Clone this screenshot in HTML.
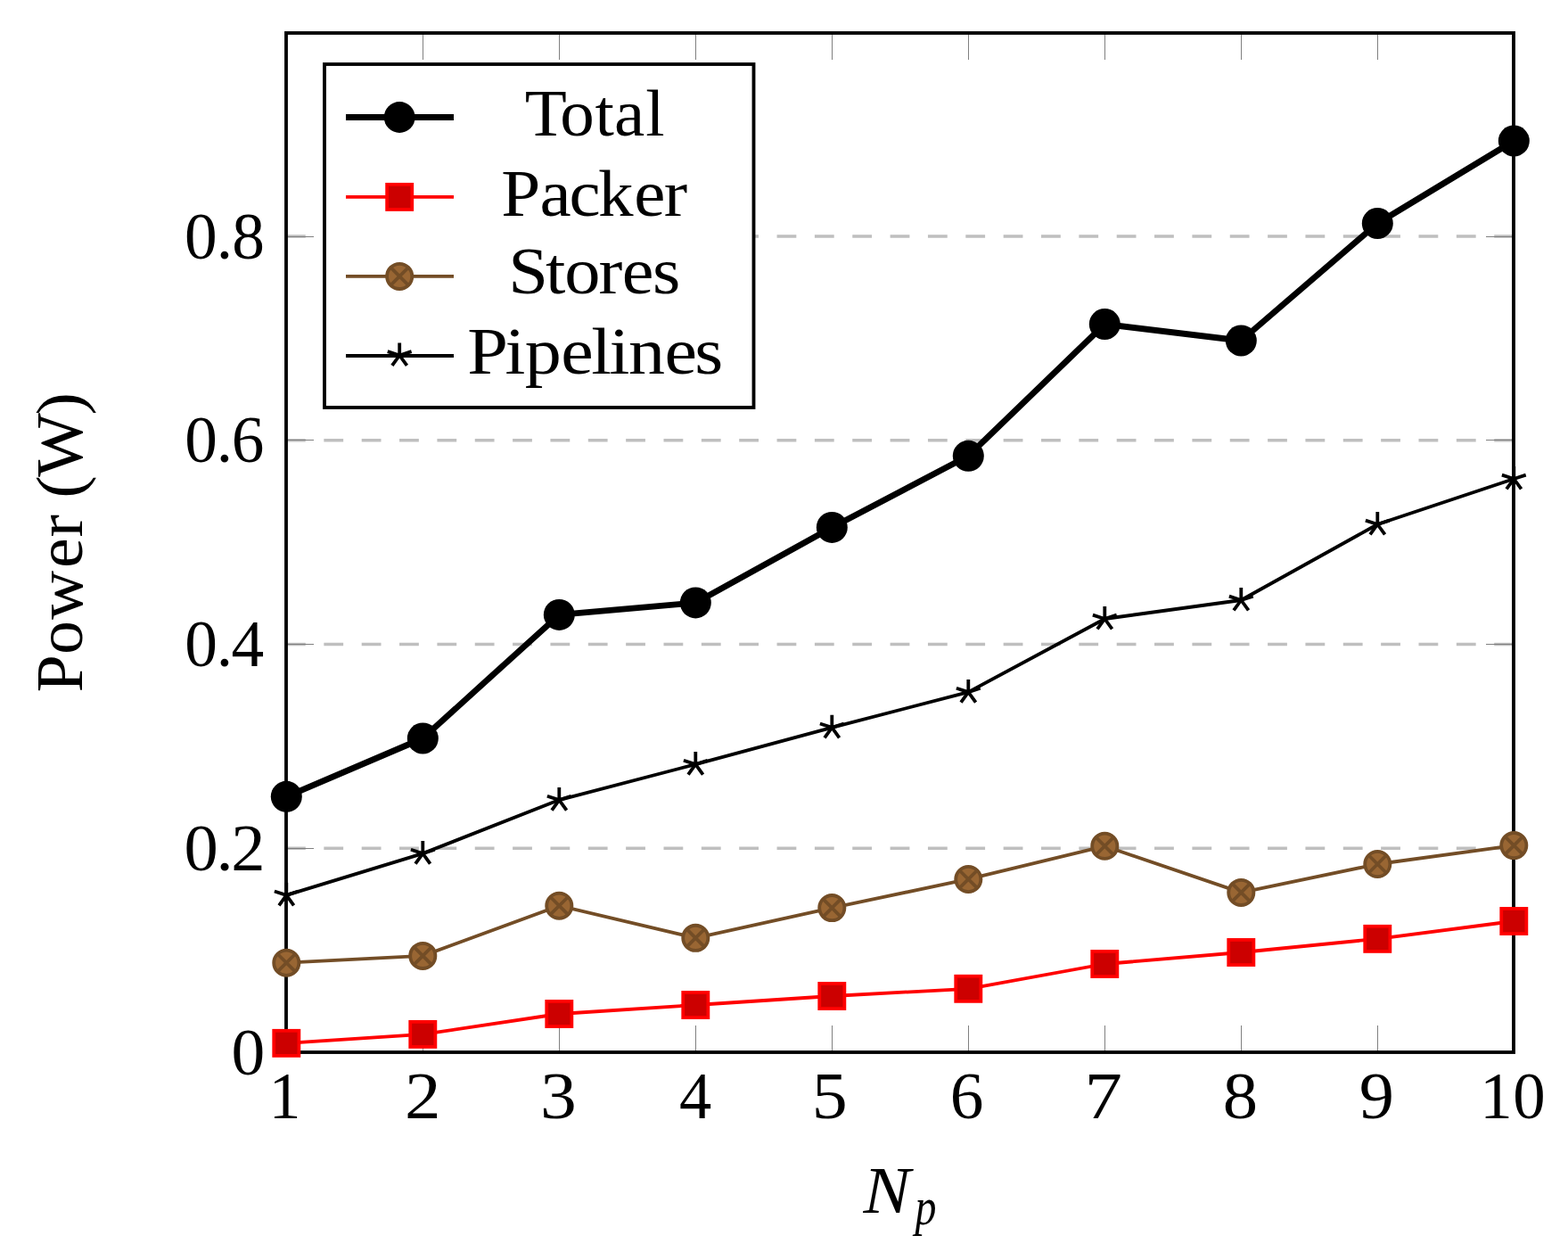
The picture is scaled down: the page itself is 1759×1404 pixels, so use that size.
<!DOCTYPE html><html><head><meta charset="utf-8"><title>Power vs Np</title><style>html,body{margin:0;padding:0;background:#fff;}svg{display:block;}text{font-family:"Liberation Serif",serif;fill:#000;}</style></head><body>
<svg width="1759" height="1404" viewBox="0 0 1759 1404">
<rect width="1759" height="1404" fill="#fff"/>
<line x1="321" y1="951.25" x2="1698" y2="951.25" stroke="#bfbfbf" stroke-width="3.7" stroke-dasharray="21.8 20.55"/>
<line x1="321" y1="722.50" x2="1698" y2="722.50" stroke="#bfbfbf" stroke-width="3.7" stroke-dasharray="21.8 20.55"/>
<line x1="321" y1="493.75" x2="1698" y2="493.75" stroke="#bfbfbf" stroke-width="3.7" stroke-dasharray="21.8 20.55"/>
<line x1="321" y1="265.00" x2="1698" y2="265.00" stroke="#bfbfbf" stroke-width="3.7" stroke-dasharray="21.8 20.55"/>
<path d="M474.5,1180V1150M474.5,37V67M627.5,1180V1150M627.5,37V67M780.5,1180V1150M780.5,37V67M933.5,1180V1150M933.5,37V67M1086.5,1180V1150M1086.5,37V67M1239.5,1180V1150M1239.5,37V67M1392.5,1180V1150M1392.5,37V67M1545.5,1180V1150M1545.5,37V67M321,951.5H352M1698,951.5H1667M321,722.5H352M1698,722.5H1667M321,493.5H352M1698,493.5H1667M321,265.5H352M1698,265.5H1667" stroke="#808080" stroke-width="1" fill="none"/>
<rect x="321" y="37" width="1377" height="1143" fill="none" stroke="#000" stroke-width="3.85"/>
<polyline points="321.30,893.30 474.30,828.00 627.30,689.40 780.30,675.90 933.30,591.40 1086.30,511.30 1239.30,363.50 1392.30,382.00 1545.30,250.50 1698.30,158.00" fill="none" stroke="#000" stroke-width="6.8" stroke-linejoin="round"/>
<circle cx="321.30" cy="893.30" r="17.5" fill="#000"/><circle cx="474.30" cy="828.00" r="17.5" fill="#000"/><circle cx="627.30" cy="689.40" r="17.5" fill="#000"/><circle cx="780.30" cy="675.90" r="17.5" fill="#000"/><circle cx="933.30" cy="591.40" r="17.5" fill="#000"/><circle cx="1086.30" cy="511.30" r="17.5" fill="#000"/><circle cx="1239.30" cy="363.50" r="17.5" fill="#000"/><circle cx="1392.30" cy="382.00" r="17.5" fill="#000"/><circle cx="1545.30" cy="250.50" r="17.5" fill="#000"/><circle cx="1698.30" cy="158.00" r="17.5" fill="#000"/>
<polyline points="321.30,1169.85 474.30,1159.90 627.30,1137.00 780.30,1127.00 933.30,1117.00 1086.30,1108.80 1239.30,1081.00 1392.30,1068.00 1545.30,1052.85 1698.30,1033.00" fill="none" stroke="#ff0000" stroke-width="3.8" stroke-linejoin="round"/>
<rect x="307.25" y="1155.80" width="28.10" height="28.10" fill="#cc0000" stroke="#ff0000" stroke-width="3.8"/><rect x="460.25" y="1145.85" width="28.10" height="28.10" fill="#cc0000" stroke="#ff0000" stroke-width="3.8"/><rect x="613.25" y="1122.95" width="28.10" height="28.10" fill="#cc0000" stroke="#ff0000" stroke-width="3.8"/><rect x="766.25" y="1112.95" width="28.10" height="28.10" fill="#cc0000" stroke="#ff0000" stroke-width="3.8"/><rect x="919.25" y="1102.95" width="28.10" height="28.10" fill="#cc0000" stroke="#ff0000" stroke-width="3.8"/><rect x="1072.25" y="1094.75" width="28.10" height="28.10" fill="#cc0000" stroke="#ff0000" stroke-width="3.8"/><rect x="1225.25" y="1066.95" width="28.10" height="28.10" fill="#cc0000" stroke="#ff0000" stroke-width="3.8"/><rect x="1378.25" y="1053.95" width="28.10" height="28.10" fill="#cc0000" stroke="#ff0000" stroke-width="3.8"/><rect x="1531.25" y="1038.80" width="28.10" height="28.10" fill="#cc0000" stroke="#ff0000" stroke-width="3.8"/><rect x="1684.25" y="1018.95" width="28.10" height="28.10" fill="#cc0000" stroke="#ff0000" stroke-width="3.8"/>
<polyline points="321.30,1079.70 474.30,1071.90 627.30,1015.70 780.30,1051.85 933.30,1018.10 1086.30,985.95 1239.30,948.80 1392.30,1000.90 1545.30,969.00 1698.30,948.10" fill="none" stroke="#734d26" stroke-width="3.8" stroke-linejoin="round"/>
<circle cx="321.30" cy="1079.70" r="14.10" fill="#996633" stroke="#734d26" stroke-width="3.8"/><path d="M311.33,1069.73L331.27,1089.67M311.33,1089.67L331.27,1069.73" stroke="#734d26" stroke-width="3.8"/><circle cx="474.30" cy="1071.90" r="14.10" fill="#996633" stroke="#734d26" stroke-width="3.8"/><path d="M464.33,1061.93L484.27,1081.87M464.33,1081.87L484.27,1061.93" stroke="#734d26" stroke-width="3.8"/><circle cx="627.30" cy="1015.70" r="14.10" fill="#996633" stroke="#734d26" stroke-width="3.8"/><path d="M617.33,1005.73L637.27,1025.67M617.33,1025.67L637.27,1005.73" stroke="#734d26" stroke-width="3.8"/><circle cx="780.30" cy="1051.85" r="14.10" fill="#996633" stroke="#734d26" stroke-width="3.8"/><path d="M770.33,1041.88L790.27,1061.82M770.33,1061.82L790.27,1041.88" stroke="#734d26" stroke-width="3.8"/><circle cx="933.30" cy="1018.10" r="14.10" fill="#996633" stroke="#734d26" stroke-width="3.8"/><path d="M923.33,1008.13L943.27,1028.07M923.33,1028.07L943.27,1008.13" stroke="#734d26" stroke-width="3.8"/><circle cx="1086.30" cy="985.95" r="14.10" fill="#996633" stroke="#734d26" stroke-width="3.8"/><path d="M1076.33,975.98L1096.27,995.92M1076.33,995.92L1096.27,975.98" stroke="#734d26" stroke-width="3.8"/><circle cx="1239.30" cy="948.80" r="14.10" fill="#996633" stroke="#734d26" stroke-width="3.8"/><path d="M1229.33,938.83L1249.27,958.77M1229.33,958.77L1249.27,938.83" stroke="#734d26" stroke-width="3.8"/><circle cx="1392.30" cy="1000.90" r="14.10" fill="#996633" stroke="#734d26" stroke-width="3.8"/><path d="M1382.33,990.93L1402.27,1010.87M1382.33,1010.87L1402.27,990.93" stroke="#734d26" stroke-width="3.8"/><circle cx="1545.30" cy="969.00" r="14.10" fill="#996633" stroke="#734d26" stroke-width="3.8"/><path d="M1535.33,959.03L1555.27,978.97M1535.33,978.97L1555.27,959.03" stroke="#734d26" stroke-width="3.8"/><circle cx="1698.30" cy="948.10" r="14.10" fill="#996633" stroke="#734d26" stroke-width="3.8"/><path d="M1688.33,938.13L1708.27,958.07M1688.33,958.07L1708.27,938.13" stroke="#734d26" stroke-width="3.8"/>
<polyline points="321.30,1003.90 474.30,957.10 627.30,897.10 780.30,857.10 933.30,815.90 1086.30,776.10 1239.30,694.00 1392.30,673.00 1545.30,588.00 1698.30,537.00" fill="none" stroke="#000" stroke-width="3.8" stroke-linejoin="round"/>
<path d="M321.30,1003.90L321.30,989.80M321.30,1003.90L307.89,999.54M321.30,1003.90L313.01,1015.31M321.30,1003.90L329.59,1015.31M321.30,1003.90L334.71,999.54" stroke="#000" stroke-width="3.8" fill="none"/><path d="M474.30,957.10L474.30,943.00M474.30,957.10L460.89,952.74M474.30,957.10L466.01,968.51M474.30,957.10L482.59,968.51M474.30,957.10L487.71,952.74" stroke="#000" stroke-width="3.8" fill="none"/><path d="M627.30,897.10L627.30,883.00M627.30,897.10L613.89,892.74M627.30,897.10L619.01,908.51M627.30,897.10L635.59,908.51M627.30,897.10L640.71,892.74" stroke="#000" stroke-width="3.8" fill="none"/><path d="M780.30,857.10L780.30,843.00M780.30,857.10L766.89,852.74M780.30,857.10L772.01,868.51M780.30,857.10L788.59,868.51M780.30,857.10L793.71,852.74" stroke="#000" stroke-width="3.8" fill="none"/><path d="M933.30,815.90L933.30,801.80M933.30,815.90L919.89,811.54M933.30,815.90L925.01,827.31M933.30,815.90L941.59,827.31M933.30,815.90L946.71,811.54" stroke="#000" stroke-width="3.8" fill="none"/><path d="M1086.30,776.10L1086.30,762.00M1086.30,776.10L1072.89,771.74M1086.30,776.10L1078.01,787.51M1086.30,776.10L1094.59,787.51M1086.30,776.10L1099.71,771.74" stroke="#000" stroke-width="3.8" fill="none"/><path d="M1239.30,694.00L1239.30,679.90M1239.30,694.00L1225.89,689.64M1239.30,694.00L1231.01,705.41M1239.30,694.00L1247.59,705.41M1239.30,694.00L1252.71,689.64" stroke="#000" stroke-width="3.8" fill="none"/><path d="M1392.30,673.00L1392.30,658.90M1392.30,673.00L1378.89,668.64M1392.30,673.00L1384.01,684.41M1392.30,673.00L1400.59,684.41M1392.30,673.00L1405.71,668.64" stroke="#000" stroke-width="3.8" fill="none"/><path d="M1545.30,588.00L1545.30,573.90M1545.30,588.00L1531.89,583.64M1545.30,588.00L1537.01,599.41M1545.30,588.00L1553.59,599.41M1545.30,588.00L1558.71,583.64" stroke="#000" stroke-width="3.8" fill="none"/><path d="M1698.30,537.00L1698.30,522.90M1698.30,537.00L1684.89,532.64M1698.30,537.00L1690.01,548.41M1698.30,537.00L1706.59,548.41M1698.30,537.00L1711.71,532.64" stroke="#000" stroke-width="3.8" fill="none"/>
<rect x="364" y="72" width="481.5" height="385" fill="#fff" stroke="#000" stroke-width="3.85"/>
<line x1="388" y1="131.5" x2="509" y2="131.5" stroke="#000" stroke-width="6.8"/><circle cx="448.2" cy="131.5" r="17.4" fill="#000"/>
<line x1="388" y1="220.9" x2="509" y2="220.9" stroke="#ff0000" stroke-width="3.8"/><rect x="434.15" y="206.85" width="28.10" height="28.10" fill="#cc0000" stroke="#ff0000" stroke-width="3.8"/>
<line x1="388" y1="309.9" x2="509" y2="309.9" stroke="#734d26" stroke-width="3.8"/><circle cx="448.20" cy="309.90" r="14.10" fill="#996633" stroke="#734d26" stroke-width="3.8"/><path d="M438.23,299.93L458.17,319.87M438.23,319.87L458.17,299.93" stroke="#734d26" stroke-width="3.8"/>
<line x1="388" y1="399" x2="509" y2="399" stroke="#000" stroke-width="3.8"/><path d="M448.20,398.50L448.20,384.40M448.20,398.50L434.79,394.14M448.20,398.50L439.91,409.91M448.20,398.50L456.49,409.91M448.20,398.50L461.61,394.14" stroke="#000" stroke-width="3.8" fill="none"/>
<text x="569.85 607.95 646.04 666.88 700.86" y="151.90" font-size="74.5" transform="scale(1.0333,1)">Total</text>
<text x="529.16 569.92 601.03 631.45 669.38 701.02" y="241.90" font-size="74.5" transform="scale(1.0625,1)">Packer</text>
<text x="528.10 566.70 586.40 621.93 646.11 677.95" y="329.30" font-size="74.5" transform="scale(1.0799,1)">Stores</text>
<text x="475.24 513.58 533.65 570.53 601.27 619.60 639.07 675.87 706.31" y="418.70" font-size="74.5" transform="scale(1.1031,1)">Pipelines</text>
<text x="310.96" y="1253.80" font-size="73.5" transform="scale(0.9700,1)">1</text>
<text x="411.54" y="1253.80" font-size="73.5" transform="scale(1.1030,1)">2</text>
<text x="546.06" y="1253.80" font-size="73.5" transform="scale(1.1099,1)">3</text>
<text x="772.62" y="1253.80" font-size="73.5" transform="scale(0.9864,1)">4</text>
<text x="837.54" y="1253.80" font-size="73.5" transform="scale(1.0875,1)">5</text>
<text x="1039.37" y="1253.80" font-size="73.5" transform="scale(1.0254,1)">6</text>
<text x="1053.48" y="1253.80" font-size="73.5" transform="scale(1.1548,1)">7</text>
<text x="1283.29" y="1253.80" font-size="73.5" transform="scale(1.0690,1)">8</text>
<text x="1431.95" y="1253.80" font-size="73.5" transform="scale(1.0648,1)">9</text>
<text x="1677.12 1714.51" y="1253.80" font-size="73.5" transform="scale(0.9899,1)">10</text>
<text x="207.60 243.41 260.89" y="289.57" font-size="73.5" transform="scale(0.9974,1)">0.8</text>
<text x="208.03 243.77 260.70" y="518.32" font-size="73.5" transform="scale(0.9962,1)">0.6</text>
<text x="207.54 243.22 259.98" y="747.07" font-size="73.5" transform="scale(0.9984,1)">0.4</text>
<text x="198.20 232.79 248.98" y="975.82" font-size="73.5" transform="scale(1.0414,1)">0.2</text>
<text x="252.54" y="1204.57" font-size="73.5" transform="scale(1.0272,1)">0</text>
<g transform="translate(92,0) rotate(-90)"><text x="-760.89 -719.24 -680.80 -624.32 -590.37 -565.56 -547.32 -524.03 -456.15" y="0.00" font-size="74.5" transform="scale(1.0205,1)">Power (W)</text></g>
<text x="912.28" y="1359.90" font-size="74.5" transform="scale(1.0616,1)" font-style="italic">N</text>
<text x="1286.14" y="1373.00" font-size="60" transform="scale(0.7981,1)" font-style="italic">p</text>
</svg></body></html>
